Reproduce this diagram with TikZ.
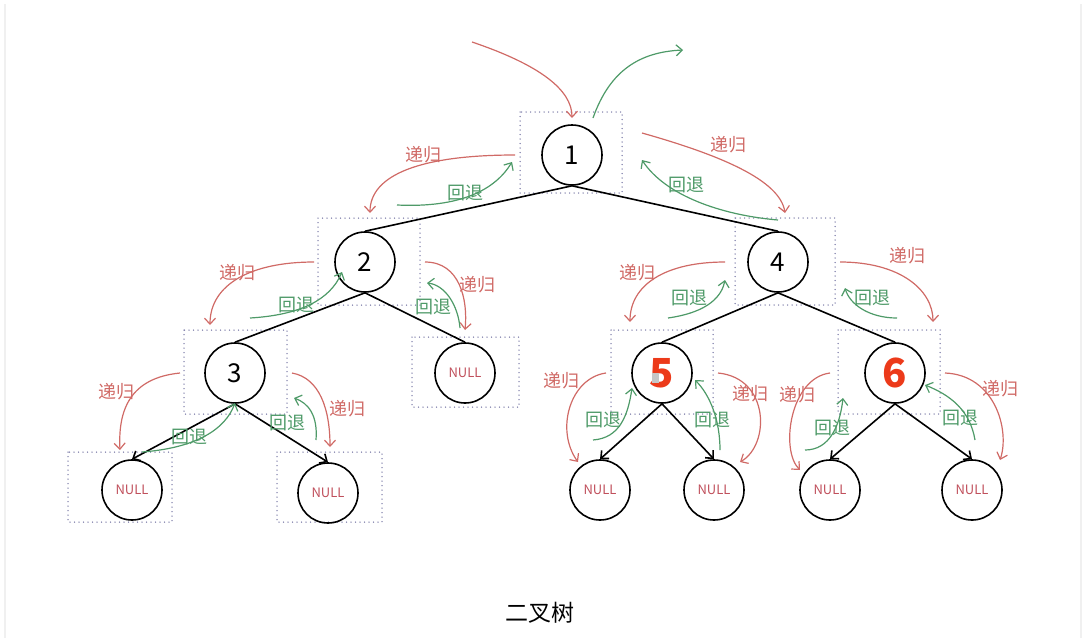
\documentclass[tikz,border=0pt]{standalone}
\usepackage{fontspec}
\setmainfont{Noto Sans CJK SC}
\usepackage{tikz}
\usetikzlibrary{arrows.meta}

\definecolor{recred}{HTML}{D06A66}
\definecolor{backgreen}{HTML}{4E9A68}
\definecolor{boxblue}{HTML}{7C7CA8}
\definecolor{nullred}{HTML}{C0505C}
\definecolor{handred}{HTML}{EC3A1A}

\tikzset{
  tnode/.style={circle,draw,line width=1.6pt,minimum size=60pt,inner sep=0pt,font=\fontsize{26}{28}\selectfont},
  nullnode/.style={tnode,text=nullred,font=\fontsize{13}{15}\selectfont},
  framebox/.style={draw=boxblue,line width=1.5pt,line cap=round,dash pattern=on 0pt off 4.5pt},
  edge/.style={line width=1.6pt},
  dirr/.style={edge,-{Straight Barb[length=6pt,width=11pt]}},
  rec/.style={draw=recred,line width=1.2pt,-{Straight Barb[length=6pt,width=11pt]}},
  back/.style={draw=backgreen,line width=1.2pt,-{Straight Barb[length=6pt,width=11pt]}},
  reclbl/.style={text=recred,font=\fontsize{18}{20}\selectfont},
  backlbl/.style={text=backgreen,font=\fontsize{18}{20}\selectfont}
}

\begin{document}
\begin{tikzpicture}[x=1pt,y=-1pt]
\useasboundingbox (0,0) rectangle (1089,638);
\draw[gray!12,line width=1.5pt](5,4)--(5,638) (1081,4)--(1081,638);
% dotted frames
\draw[framebox](520,112)rectangle(622,193)
(318,218)rectangle(420,305)
(735,218)rectangle(835,305)
(184,330)rectangle(287,414)
(412,337)rectangle(519,407)
(611,330)rectangle(713,414)
(838,330)rectangle(940,414)
(68,452)rectangle(172,522)
(277,452)rectangle(382,522);
% nodes
\node[tnode](n1)at(572,155){1};
\node[tnode](n2)at(365,262){2};
\node[tnode](n4)at(778,262){4};
\node[tnode](n3)at(235,373){3};
\node[nullnode](n2r)at(465,373){NULL};
\node[tnode,text=handred,font=\fontsize{40}{42}\selectfont\bfseries](n5)at(662,373){5};
\node[tnode,text=handred,font=\fontsize{40}{42}\selectfont\bfseries](n6)at(895,373){6};
\node[nullnode](n3l)at(132,490){NULL};
\node[nullnode](n3r)at(328,493){NULL};
\node[nullnode](n5l)at(600,490){NULL};
\node[nullnode](n5r)at(714,490){NULL};
\node[nullnode](n6l)at(830,490){NULL};
\node[nullnode](n6r)at(972,490){NULL};
\fill[gray!45](652,373)rectangle(659,383);
% tree edges
\draw[edge](n1.south)--(n2.north);
\draw[edge](n1.south)--(n4.north);
\draw[edge](n2.south)--(n3.north);
\draw[edge](n2.south)--(n2r.north);
\draw[edge](n4.south)--(n5.north);
\draw[edge](n4.south)--(n6.north);
\draw[dirr](n3.south)--(n3l.north);
\draw[dirr](n3.south)--(n3r.north);
\draw[dirr](n5.south)--(n5l.north);
\draw[dirr](n5.south)--(n5r.north);
\draw[dirr](n6.south)--(n6l.north);
\draw[dirr](n6.south)--(n6r.north);
% entry and exit
\draw[rec](472,42)..controls(540,65)and(572,90)..(572,118);
\draw[back](593,118)..controls(610,70)and(640,52)..(683,50);
% recursion (red)
\draw[rec](515,155)..controls(420,155)and(370,175)..(370,213);
\draw[rec](642,133)..controls(720,155)and(780,180)..(785,213);
\draw[rec](314,262)..controls(250,262)and(210,285)..(210,325);
\draw[rec](425,262)..controls(460,262)and(468,300)..(465,330);
\draw[rec](180,373)..controls(130,378)and(118,410)..(120,450);
\draw[rec](292,373)..controls(320,378)and(330,410)..(330,447);
\draw[rec](725,262)..controls(665,262)and(630,285)..(630,322);
\draw[rec](840,262)..controls(900,262)and(933,290)..(933,322);
\draw[rec](606,373)..controls(570,378)and(555,430)..(578,462);
\draw[rec](718,373)..controls(770,378)and(770,445)..(740,462);
\draw[rec](830,373)..controls(790,378)and(780,450)..(800,470);
\draw[rec](945,373)..controls(995,375)and(1010,430)..(1000,460);
% backtracking (green)
\draw[back](397,205)..controls(460,208)and(495,190)..(512,162);
\draw[back](778,220)..controls(720,215)and(665,195)..(642,160);
\draw[back](250,318)..controls(300,315)and(330,300)..(342,272);
\draw[back](460,328)..controls(458,305)and(445,285)..(427,283);
\draw[back](142,452)..controls(195,448)and(225,430)..(235,403);
\draw[back](316,440)..controls(318,415)and(308,403)..(294,398);
\draw[back](668,318)..controls(710,312)and(722,295)..(725,280);
\draw[back](897,318)..controls(870,318)and(850,305)..(845,288);
\draw[back](593,440)..controls(620,438)and(628,415)..(632,388);
\draw[back](720,450)..controls(720,420)and(710,395)..(695,380);
\draw[back](805,450)..controls(830,450)and(840,425)..(843,398);
\draw[back](975,440)..controls(970,410)and(950,395)..(925,385);
% labels
\node[reclbl](r1)at(423,155){递归};
\node[reclbl](r2)at(728,145){递归};
\node[reclbl](r3)at(237,273){递归};
\node[reclbl](r4)at(477,285){递归};
\node[reclbl](r5)at(116,392){递归};
\node[reclbl](r6)at(347,409){递归};
\node[reclbl](r7)at(637,273){递归};
\node[reclbl](r8)at(907,256){递归};
\node[reclbl](r9)at(561,381){递归};
\node[reclbl](r10)at(750,394){递归};
\node[reclbl](r11)at(797,395){递归};
\node[reclbl](r12)at(1000,389){递归};
\node[backlbl](b1)at(465,193){回退};
\node[backlbl](b2)at(686,185){回退};
\node[backlbl](b3)at(296,305){回退};
\node[backlbl](b4)at(433,307){回退};
\node[backlbl](b5)at(189,437){回退};
\node[backlbl](b6)at(287,423){回退};
\node[backlbl](b7)at(689,298){回退};
\node[backlbl](b8)at(872,298){回退};
\node[backlbl](b9)at(603,420){回退};
\node[backlbl](b10)at(712,420){回退};
\node[backlbl](b11)at(832,428){回退};
\node[backlbl](b12)at(960,418){回退};
% caption
\node[font=\fontsize{23}{25}\selectfont](cap)at(540,613){二叉树};
\end{tikzpicture}
\end{document}
